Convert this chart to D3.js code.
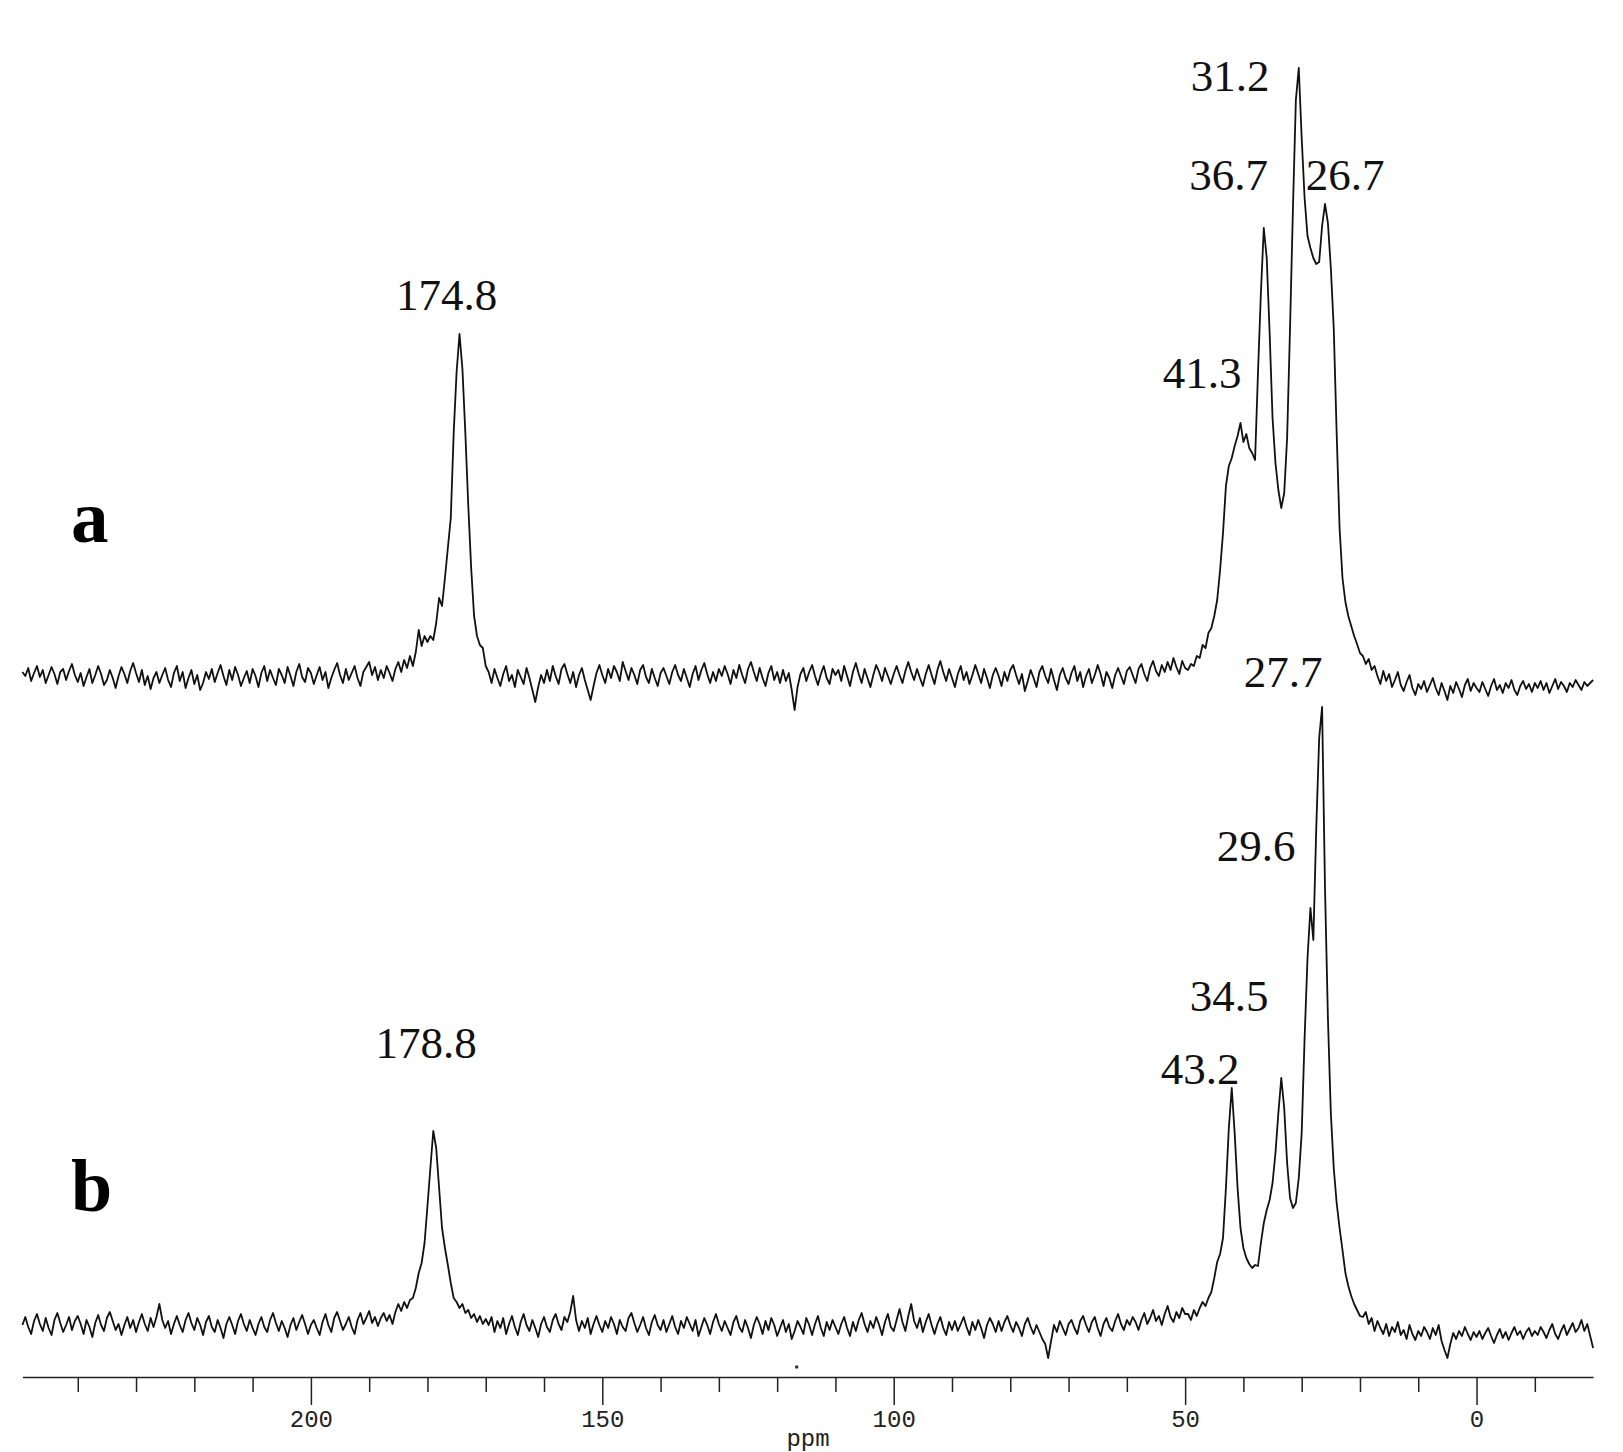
<!DOCTYPE html>
<html>
<head>
<meta charset="utf-8">
<script src="https://cdn.jsdelivr.net/npm/d3@7/dist/d3.min.js"></script>
<style>
  html, body { margin: 0; padding: 0; background: #fff; }
  svg { display: block; }
</style>
</head>
<body>
<svg id="chart" width="1623" height="1452"></svg>
<script>
// ---- data (chemical shift grid and intensities) ----
const ppmStart = 249.5;   // first sample, ppm
const ppmStep = 0.5;      // spacing of samples, ppm
const ppmEnd = -20.0;

// spectrum a (relative intensity above baseline), 20 samples = 10 ppm per row
const specA = [
  6, 2, 10, -3, 5, 12, 1, 8, -5, 3, 11, 4, -6, 6, 9, -2, 7, 14, 3, -4,
  5, -8, 1, 9, -5, 3, 12, 4, -7, -2, 8, 0, -10, 2, 11, 4, -5, 7, 15, 5,
  -4, 8, -7, 2, -11, 0, 6, -5, 3, 10, -2, -9, 5, 12, -3, 6, -10, 0, 8, -6,
  3, -12, -5, 6, -1, 9, -4, 5, 13, 2, -7, 8, -2, 11, 3, -8, 0, 7, -5, 9,
  2, -9, 5, 12, -3, 8, 0, -7, 9, 3, -5, 11, 2, -8, 6, 14, 1, -4, 10, 5,
  -6, 3, 11, -2, 6, -10, 0, 8, 15, 3, -5, 9, -2, 5, 12, 0, -8, 6, 11, 16,
  3, 11, -2, 8, 0, 12, 5, -3, 9, 16, 6, 18, 10, 22, 12, 26, 48, 32, 42, 36,
  42, 38, 55, 80, 72, 100, 130, 160, 245, 306, 344, 309, 245, 173, 110, 62, 42, 33, 30, 12,
  6, -5, 9, 0, -8, 4, 12, -3, 3, -9, 8, 1, -6, 10, 0, -12, -24, -9, 3, -5,
  8, -3, 12, 2, -6, 9, 14, 4, -5, 6, -9, 3, 10, -2, -12, -22, -8, 5, 13, 3,
  -5, 9, 0, 12, 6, -3, 16, 7, -2, 10, 3, -6, 8, 13, 1, -5, 9, 0, -8, 5,
  10, 2, -6, 6, 13, 3, -3, 9, 0, -9, 4, 12, -2, 8, 15, 4, -5, 6, -3, 9,
  2, 12, 4, -6, 8, 0, 13, 3, -5, 9, 16, 6, -3, 10, 0, -8, 5, 12, -2, 6,
  -5, 8, -3, 5, -12, -32, -9, 4, 10, -3, 6, 13, 2, -7, 4, 12, 0, -6, 9, 3,
  8, -3, 12, 2, -8, 6, 15, 4, -5, 9, 0, -9, 3, 13, 6, -3, 10, 2, -6, 4,
  12, 3, -5, 7, 16, 6, -2, 9, 0, -8, 4, 13, 3, -6, 8, 17, 6, -3, 9, 0,
  -9, 4, 12, -2, 6, -6, 3, 13, 4, -5, 9, 0, -10, 3, 10, 2, -8, 6, -3, 8,
  13, 3, -6, 4, -13, -3, 8, 0, -9, 6, 12, 2, -5, 9, -2, -12, 3, 10, 0, -6,
  5, 12, -3, 6, -9, 2, 9, -5, 3, 13, 4, -8, 6, 0, -10, 3, 10, 2, -6, 7,
  11, 3, -5, 9, 14, 4, -3, 10, 17, 7, 2, 13, 6, 16, 8, 20, 11, 4, 17, 10,
  8, 14, 12, 22, 20, 33, 30, 45, 50, 62, 78, 108, 145, 192, 212, 220, 232, 242, 255, 236,
  244, 230, 225, 218, 305, 385, 450, 420, 345, 260, 215, 188, 170, 185, 240, 350, 470, 578, 610, 540,
  480, 442, 430, 420, 414, 416, 452, 474, 455, 410, 350, 245, 150, 100, 76, 62, 52, 42, 34, 25,
  22, 14, 19, 8, 12, 2, -6, 7, -3, 4, -9, -2, 6, -7, -13, -4, 3, -10, -17, -6,
  -11, -3, -14, -7, 0, -10, -17, -5, -13, -22, -8, -15, -4, -11, -19, -7, -1, -13, -5, -10,
  -14, -4, -11, -18, -8, -1, -12, -7, -15, -5, -10, -2, -12, -17, -8, -3, -11, -6, -14, -5,
  -10, -3, -12, -5, -15, -8, -1, -11, -4, -8, -14, -5, -9, -2, -7, -12, -4, -8, -5, -2
];

// spectrum b
const specB = [
  3, 11, 1, -6, 7, 14, 4, -3, 10, 0, -7, 8, 15, 5, -4, 3, 11, -2, 7, 12,
  4, -6, 8, 1, -9, 5, 13, 3, -3, 10, 16, 7, -2, 4, -7, 3, 11, 0, 8, -4,
  6, 14, 4, -3, 10, 1, 11, 24, 8, 0, 7, -6, 4, 12, 3, -4, 8, 15, 5, -2,
  10, 3, -7, 6, 12, 1, -4, 8, 0, -10, 4, 11, 3, -6, 7, 14, 4, -3, 8, 0,
  -7, 4, 11, 1, -4, 8, 15, 5, -3, 7, 0, -9, 3, 10, -2, 6, 13, 4, -6, 3,
  8, 0, -7, 6, 14, 3, -4, 10, 16, 7, -2, 4, 11, 1, -6, 8, 15, 4, 10, 17,
  5, 11, 2, 10, 15, 7, 13, 4, 16, 24, 17, 26, 20, 28, 30, 40, 55, 65, 85, 122,
  160, 197, 180, 140, 100, 80, 63, 45, 30, 26, 20, 24, 15, 18, 10, 14, 6, 12, 4, 9,
  3, 11, -4, 7, 0, 10, -6, 4, 12, 1, -7, 6, 14, 3, -3, 8, 0, -9, 4, 11,
  1, -4, 8, 14, 4, -2, 11, 6, 16, 32, 8, -3, 7, 0, 10, -6, 4, 12, 3, -4,
  7, 0, 11, 4, -6, 8, 1, -3, 10, 15, 5, -4, 3, 11, 0, -7, 6, 13, 3, -2,
  8, -4, 4, 12, 1, -6, 7, 0, 11, 4, -3, 8, -8, 1, 10, 3, -6, 6, 14, 4,
  -3, 7, 0, -7, 6, 12, 1, -4, 8, 0, -10, 3, 11, 4, -6, 7, -2, 10, 3, -8,
  0, 8, -4, 4, -11, -3, 7, 1, -6, 10, 3, -7, 4, 12, 0, -8, 6, -2, 8, 1,
  -6, 4, 11, 0, -8, 6, -3, 8, 15, 4, -4, 7, 0, 11, 3, -7, 6, 14, 1, -3,
  8, 19, 6, -3, 12, 24, 7, 0, 10, -4, 6, 14, 3, -6, 4, 11, 0, -7, 6, -2,
  7, -3, 4, 11, 1, -7, 6, -2, 8, 0, -10, 3, 10, 4, -4, 7, -3, 6, 12, 3,
  -4, 6, 0, -8, 4, 10, 1, -6, 3, -4, -11, -16, -30, -13, 3, -4, 7, 0, -7, 4,
  8, 0, -6, 7, 12, 3, -4, 6, 11, 0, -8, 4, 10, 1, -3, 7, 14, 4, -2, 8,
  3, 11, 6, -2, 8, 15, 4, 10, 18, 7, 12, 3, 14, 22, 11, 6, 16, 10, 20, 14,
  14, 8, 18, 12, 20, 26, 22, 30, 36, 50, 66, 74, 90, 140, 200, 240, 195, 140, 100, 80,
  70, 64, 60, 63, 62, 85, 105, 118, 128, 145, 175, 215, 250, 220, 165, 130, 120, 125, 150, 195,
  290, 370, 420, 388, 500, 590, 621, 440, 310, 215, 160, 125, 100, 78, 55, 42, 32, 24, 18, 12,
  11, 16, 4, 10, -3, 7, 0, -6, 4, -8, 1, -4, 6, -7, -2, -11, 3, -6, -12, -3,
  -8, 1, -4, -11, 0, -7, 3, -13, -22, -30, -16, -5, -11, -3, -8, 1, -6, -12, -4, -9,
  -3, -11, -5, 0, -8, -15, -7, -1, -10, -4, -12, -5, 1, -7, -3, -11, -4, 0, -8, -3,
  -7, 1, -4, -10, -2, 4, -6, -11, -3, 3, -7, -1, 5, -4, 0, 8, -3, 4, -8, -20
];

const peakLabelsA = ["174.8", "41.3", "36.7", "31.2", "26.7"];
const peakLabelsB = ["178.8", "43.2", "34.5", "29.6", "27.7"];
const traceNames = ["a", "b"];
const tickValuesMinor = d3.range(-10, 241, 10);
const tickValuesMajor = [200, 150, 100, 50, 0];
const axisTitle = "ppm";

// ---- layout ----
const svg = d3.select("#chart");
const x = d3.scaleLinear().domain([ppmStart, ppmEnd]).range([22.4, 1593.1]);
const yA = d3.scaleLinear().domain([0, 600]).range([678, 78]);
const yB = d3.scaleLinear().domain([0, 600]).range([1328, 728]);

const toPoints = arr => arr.map((v, i) => [ppmStart - i * ppmStep, v]);

const lineA = d3.line().x(d => x(d[0])).y(d => yA(d[1]));
const lineB = d3.line().x(d => x(d[0])).y(d => yB(d[1]));

svg.append("path").datum(toPoints(specA))
  .attr("d", lineA).attr("fill", "none")
  .attr("stroke", "#111").attr("stroke-width", 1.8).attr("stroke-linejoin", "round");
svg.append("path").datum(toPoints(specB))
  .attr("d", lineB).attr("fill", "none")
  .attr("stroke", "#111").attr("stroke-width", 1.8).attr("stroke-linejoin", "round");

// axis
const axisY = 1377;
const axis = d3.axisBottom(x)
  .tickValues(tickValuesMinor)
  .tickSize(15)
  .tickSizeOuter(0)
  .tickFormat(d => tickValuesMajor.includes(d) ? String(d) : "");
const gAxis = svg.append("g").attr("transform", `translate(0,${axisY})`).call(axis);
gAxis.select(".domain").attr("stroke", "#222").attr("stroke-width", 1.6);
gAxis.selectAll(".tick line").attr("stroke", "#222").attr("stroke-width", 1.5)
  .attr("y2", d => tickValuesMajor.includes(d) ? 28 : 15);
gAxis.selectAll(".tick text")
  .attr("y", 50).attr("dy", 0)
  .style("font-family", "'Liberation Mono', 'DejaVu Sans Mono', monospace")
  .style("font-size", "24px").attr("fill", "#222");

svg.append("text").text(axisTitle)
  .attr("x", 808).attr("y", 1446).attr("text-anchor", "middle")
  .style("font-family", "'Liberation Mono', 'Courier New', monospace")
  .style("font-size", "24px").attr("fill", "#222");

// small mark on the figure
svg.append("circle").attr("cx", 796.7).attr("cy", 1367).attr("r", 1.8).attr("fill", "#333");

// peak labels
const labelPos = {
  "174.8": [446.7, 310], "41.3": [1202, 388], "36.7": [1228.5, 190],
  "31.2": [1230, 91], "26.7": [1345, 190],
  "178.8": [426, 1058], "43.2": [1200, 1084], "34.5": [1229, 1011],
  "29.6": [1256, 861], "27.7": [1283, 687]
};
svg.append("g").selectAll("text").data(peakLabelsA.concat(peakLabelsB)).join("text")
  .text(d => d)
  .attr("x", d => labelPos[d][0]).attr("y", d => labelPos[d][1])
  .attr("text-anchor", "middle")
  .style("font-family", "'Liberation Serif', 'Times New Roman', serif")
  .style("font-size", "45px").attr("fill", "#111");

// trace letters
const letterPos = { a: [71, 542, 75], b: [71, 1211, 74] };
svg.append("g").selectAll("text").data(traceNames).join("text")
  .text(d => d)
  .attr("x", d => letterPos[d][0]).attr("y", d => letterPos[d][1])
  .style("font-family", "'Liberation Serif', 'Times New Roman', serif")
  .style("font-weight", "bold")
  .style("font-size", d => letterPos[d][2] + "px").attr("fill", "#000");
</script>
</body>
</html>
